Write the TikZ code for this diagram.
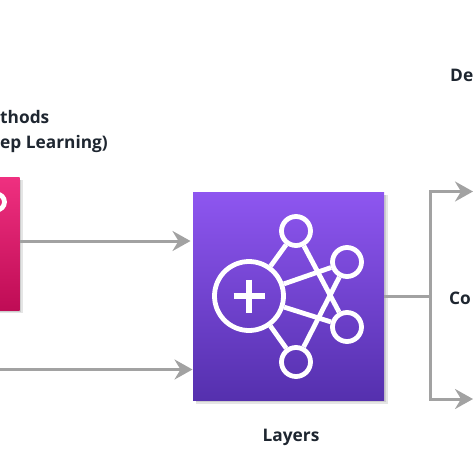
\documentclass[tikz,border=0pt]{standalone}
\usepackage{fontspec}
\setmainfont{Open Sans}
\usetikzlibrary{arrows.meta,calc}
\definecolor{linegray}{HTML}{A2A2A2}
\definecolor{txt}{HTML}{1E2630}
\definecolor{pinkT}{HTML}{EF3080}
\definecolor{pinkB}{HTML}{BF0C55}
\definecolor{purpT}{HTML}{8E56F0}
\definecolor{purpB}{HTML}{5530AE}
\tikzset{
  lbl/.style={inner sep=0pt,font=\fontsize{17.3}{20}\selectfont\bfseries,text=txt},
  conn/.style={draw=linegray,line width=3pt},
  arr/.style={conn,-{Stealth[length=18pt,width=20pt,inset=6pt]}},
  boxnode/.style={inner sep=0pt,outer sep=0pt,anchor=north west},
  ico/.style={draw=white,line width=4.8pt},
  bigc/.style={circle,ico,inner sep=0pt,minimum size=69pt},
  smallc/.style={circle,ico,inner sep=0pt,minimum size=29pt},
}
\begin{document}
\begin{tikzpicture}[x=1pt,y=-1pt]
\useasboundingbox (0,0) rectangle (474,474);
\clip (0,0) rectangle (474,474);
% soft shadows
\fill[black!10] (0,180) rectangle (23,313);
\fill[black!20] (0,180) rectangle (21,312);
\fill[black!10] (196,195) rectangle (388,404);
\fill[black!20] (196,195) rectangle (386,402);
% boxes
\node[boxnode,minimum width=30pt,minimum height=133pt,top color=pinkT,bottom color=pinkB] (pink) at (-10.5,177) {};
\node[boxnode,minimum width=191pt,minimum height=208pt,top color=purpT,bottom color=purpB] (purple) at (193,192) {};
% glyph at the edge of the pink box
\node[circle,ico,inner sep=0pt,minimum size=16pt] (pinkglyph) at (-3.5,202) {};
% icon
\node[bigc] (plus) at (249,296) {};
\node[smallc] (n1) at (296,231) {};
\node[smallc] (n2) at (347,262) {};
\node[smallc] (n3) at (347,327) {};
\node[smallc] (n4) at (296,362) {};
\draw[ico] (plus) -- (n1);
\draw[ico] (plus) -- (n2);
\draw[ico] (plus) -- (n3);
\draw[ico] (plus) -- (n4);
\draw[ico] (n1) -- (n3);
\draw[ico] (n4) -- (n2);
\draw[ico,line width=5.6pt,line cap=butt] ($(plus)+(-15.5,0)$) -- ($(plus)+(15.5,0)$);
\draw[ico,line width=5.6pt,line cap=butt] ($(plus)+(0,-16.5)$) -- ($(plus)+(0,16.5)$);
% connectors
\coordinate (leftin) at (-2,369.5);
\coordinate (bus) at (430,296);
\coordinate (outtop) at (473,191.5);
\coordinate (outbot) at (473,399);
\draw[arr,shorten >=2.5pt] (pink.east |- 0,241) -- (purple.west |- 0,241);
\draw[arr,shorten >=0.5pt] (leftin) -- (purple.west |- leftin);
\draw[conn] (purple.east |- bus) -- (bus);
\draw[arr] (bus) |- (outtop);
\draw[arr] (bus) |- (outbot);
% labels
\node[lbl,anchor=base west] (t1) at (0,123) {thods};
\node[lbl,anchor=base west] (t2) at (0,148) {ep Learning)};
\node[lbl,anchor=base west] (t3) at (450,81) {De};
\node[lbl,anchor=base west] (t4) at (449,304) {Co};
\node[lbl,anchor=base] (t5) at (291,441) {Layers};
\end{tikzpicture}
\end{document}
